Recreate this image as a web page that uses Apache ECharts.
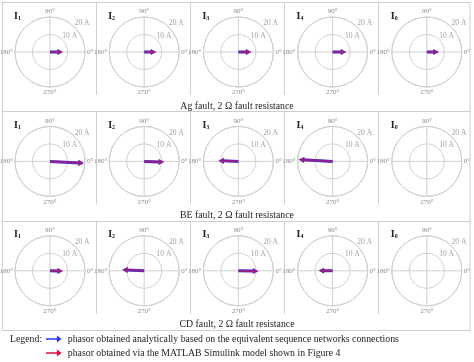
<!DOCTYPE html>
<html><head><meta charset="utf-8">
<script src="https://cdn.jsdelivr.net/npm/echarts@6/dist/echarts.min.js"></script>
<style>html,body{margin:0;padding:0;background:#fff}#c{width:474px;height:362px}</style>
</head><body><div id="c"></div>
<script>
// ---- data ----
const faults = ['Ag fault, 2 Ω fault resistance', 'BE fault, 2 Ω fault resistance', 'CD fault, 2 Ω fault resistance'];
const panelSubs = ['1', '2', '3', '4', '0'];
const angleTicks = [0, 90, 180, 270];
const ringTicks = [10, 20];
const seriesNames = ['phasor obtained analytically based on the equivalent sequence networks connections',
                     'phasor obtained via the MATLAB Simulink model shown in Figure 4'];
// magnitudes (A) and angles (deg), rows = faults, columns = I1, I2, I3, I4, I0
const agMag = [7.4, 6.9, 7.4, 7.8, 6.9];
const agAng = [0, 0, 0, 0, 0];
const beMag = [19.4, 11.4, 11.4, 19.4, 0];
const beAng = [357, 358, 178, 177, 0];
const cdMag = [7.4, 12.6, 11.4, 8.0, 0];
const cdAng = [359, 177, 359, 179, 0];
const simAgMag = [7.4, 6.9, 7.4, 7.8, 6.9];
const simAgAng = [0, 0, 0, 0, 0];
const simBeMag = [19.4, 11.4, 11.4, 19.4, 0];
const simBeAng = [357, 358, 178, 177, 0];
const simCdMag = [7.4, 12.6, 11.4, 8.0, 0];
const simCdAng = [359, 177, 359, 179, 0];

const anaMag = [agMag, beMag, cdMag], anaAng = [agAng, beAng, cdAng];
const simMag = [simAgMag, simBeMag, simCdMag], simAng = [simAgAng, simBeAng, simCdAng];

// ---- layout / style ----
const FONT = '"Liberation Serif", "DejaVu Serif", serif';
const GRID = '#cfcfcf';
const BLUE = '#2b35f0', RED = '#e0103c';
const R = 35;
const colX = i => 50 + i * 94.2;
const rowY = j => 52 + j * 109.4;
const rowTop = j => 2 + j * 109.4;

function arrowRender(color, width, head, opacity) {
  return function (params, api) {
    const r = api.value(0), a = api.value(1);
    if (!r) return null;
    const p0 = api.coord([0, a]), p1 = api.coord([r, a]);
    const dx = p1[0] - p0[0], dy = p1[1] - p0[1];
    const L = Math.sqrt(dx * dx + dy * dy) || 1;
    const ux = dx / L, uy = dy / L, nx = -uy, ny = ux;
    const bx = p1[0] - ux * head, by = p1[1] - uy * head;
    const hw = head * 0.55;
    return {
      type: 'group',
      children: [
        { type: 'line', shape: { x1: p0[0], y1: p0[1], x2: bx + ux, y2: by + uy },
          style: { stroke: color, lineWidth: width, opacity: opacity } },
        { type: 'polygon', shape: { points: [[p1[0], p1[1]], [bx + nx * hw, by + ny * hw], [bx - nx * hw, by - ny * hw]] },
          style: { fill: color, opacity: opacity } }
      ]
    };
  };
}

const option = {
  animation: false,
  polar: [], angleAxis: [], radiusAxis: [], series: [], title: [], graphic: []
};

for (let j = 0; j < 3; j++) {
  option.title.push({
    text: faults[j], left: 'center', top: rowTop(j) + 94,
    textStyle: { fontFamily: FONT, fontSize: 9.8, fontWeight: 'normal', color: '#222' }
  });
  for (let i = 0; i < 5; i++) {
    const k = j * 5 + i;
    option.polar.push({ center: [colX(i), rowY(j)], radius: R });
    option.angleAxis.push({
      polarIndex: k, type: 'value', min: 0, max: 360, interval: 90,
      startAngle: 0, clockwise: false,
      axisLine: { lineStyle: { color: GRID, width: 1 } },
      axisTick: { show: false },
      axisLabel: {
        formatter: v => angleTicks.indexOf(v) >= 0 ? v + '°' : '',
        color: '#8a8a8a', fontSize: 7, fontFamily: FONT, margin: 2
      },
      splitLine: { lineStyle: { color: GRID, width: 1 } }
    });
    option.radiusAxis.push({
      polarIndex: k, type: 'value', min: 0, max: 20, interval: 10,
      axisLine: { show: false }, axisTick: { show: false }, axisLabel: { show: false },
      splitLine: { lineStyle: { color: GRID, width: 1 } }
    });
    option.title.push({
      text: '{i|I}{s|' + panelSubs[i] + '}', left: colX(i) - 41, top: rowTop(j) + 4,
      textStyle: { rich: {
        i: { fontFamily: FONT, fontSize: 10, fontWeight: 'bold', color: '#222' },
        s: { fontFamily: FONT, fontSize: 6, fontWeight: 'bold', color: '#222', verticalAlign: 'bottom', padding: [4, 0, 0, 0] }
      } }
    });
    // ring labels
    option.series.push({
      type: 'scatter', coordinateSystem: 'polar', polarIndex: k, symbolSize: 0, silent: true,
      data: ringTicks.map(t => [t, 45, t + ' A']),
      label: { show: true, position: 'right', distance: 1, offset: [-1, -4],
        formatter: p => p.data[2], color: '#8a8a8a', fontSize: 7.5, fontFamily: FONT }
    });
    option.series.push({
      name: seriesNames[0], type: 'custom', coordinateSystem: 'polar', polarIndex: k,
      itemStyle: { color: BLUE },
      renderItem: arrowRender(BLUE, 3, 5.5, 1),
      data: [[anaMag[j][i], anaAng[j][i]]]
    });
    option.series.push({
      name: seriesNames[1], type: 'custom', coordinateSystem: 'polar', polarIndex: k,
      itemStyle: { color: RED },
      renderItem: arrowRender(RED, 2.2, 5.5, 0.55),
      data: [[simMag[j][i], simAng[j][i]]]
    });
  }
}

// frame lines (decoration)
const frame = [];
frame.push({ type: 'rect', shape: { x: 2.5, y: 2.5, width: 467.5, height: 328 }, style: { fill: null, stroke: GRID, lineWidth: 1 } });
for (let j = 1; j < 3; j++) {
  const y = Math.round(rowTop(j)) + 0.5;
  frame.push({ type: 'line', shape: { x1: 2.5, y1: y, x2: 470, y2: y }, style: { stroke: GRID, lineWidth: 1 } });
}
for (let j = 0; j < 3; j++) {
  for (let i = 1; i < 5; i++) {
    const x = Math.round(2 + i * 94) + 0.5;
    frame.push({ type: 'line', shape: { x1: x, y1: rowTop(j), x2: x, y2: rowTop(j) + 93 }, style: { stroke: GRID, lineWidth: 1 } });
  }
}
frame.push({ type: 'text', left: 10, top: 334, style: { text: 'Legend:', font: '9.8px ' + FONT, fill: '#222' } });
option.graphic = frame;

const legendBase = {
  orient: 'horizontal', left: 46, itemWidth: 20, itemHeight: 7,
  icon: 'path://M0,4 L14,4 L14,0.5 L20,5 L14,9.5 L14,6 L0,6 Z',
  textStyle: { fontFamily: FONT, fontSize: 9.8, color: '#222', padding: [0, 0, 0, -1] },
  selectedMode: false, padding: 0
};
option.legend = [
  Object.assign({}, legendBase, { top: 334, data: [seriesNames[0]] }),
  Object.assign({}, legendBase, { top: 348, data: [seriesNames[1]] })
];

const chart = echarts.init(document.getElementById('c'), null, { renderer: 'canvas' });
chart.setOption(option);
</script></body></html>
